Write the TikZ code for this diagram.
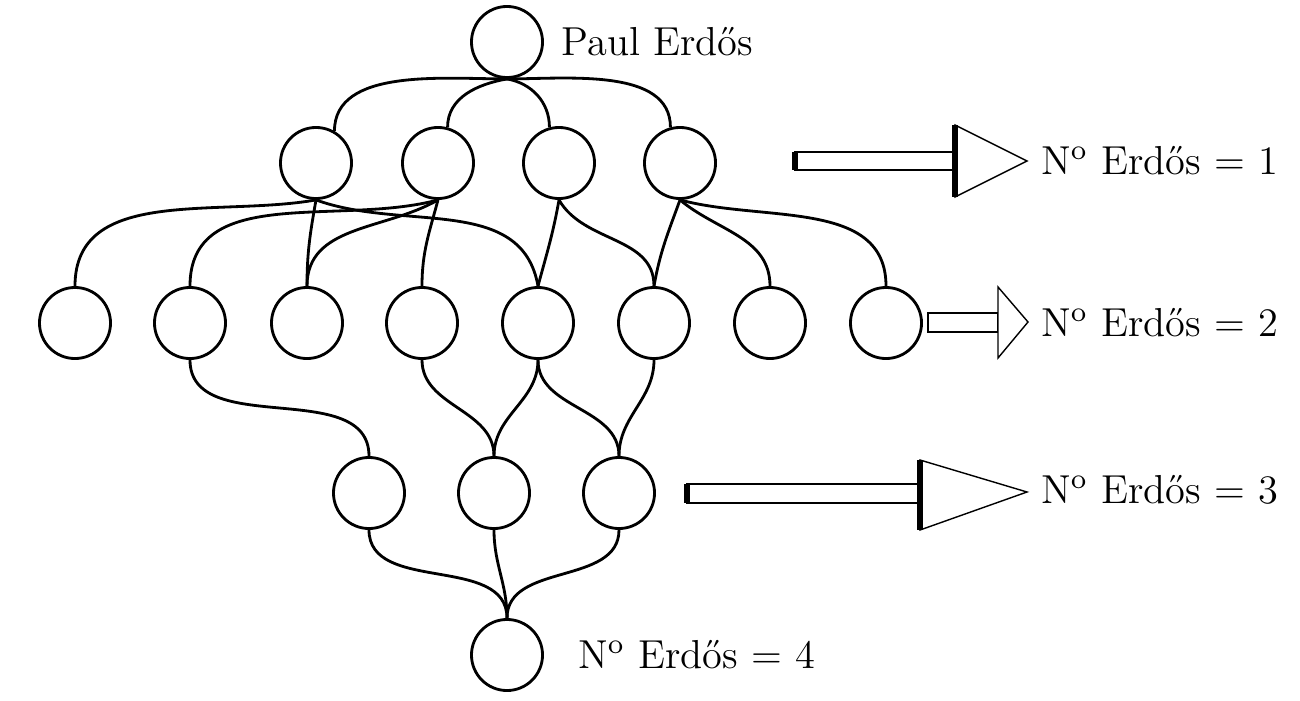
\documentclass[tikz,border=0pt]{standalone}
\usepackage{tikz}
\usetikzlibrary{arrows}
\begin{document}
\begin{tikzpicture}[x=0.01cm,y=-0.01cm,thick]
	\tikzstyle{pers}=[draw,circle,minimum size=0.71cm,inner sep=0pt]
	\tikzstyle{lbl}=[anchor=west,inner sep=0pt,font=\fontsize{11.5}{13}\selectfont]
	\tikzstyle{blk}=[draw,fill=white,thin]
	\useasboundingbox (0,0) rectangle (1300,700);
	\node [pers] (t) at (507,42) {};
	\node [lbl] at (560,42) {Paul Erdős};
	\foreach \x [count=\i] in {316,438,559,680}
		\node [pers] (a\i) at (\x,163) {};
	\foreach \x [count=\i] in {75,190,307,422,538,654,770,886}
		\node [pers] (b\i) at (\x,323) {};
	\foreach \x [count=\i] in {369,494,619}
		\node [pers] (c\i) at (\x,493) {};
	\node [pers] (d) at (507,655) {};
	\node [lbl] at (577,655) {N\textsuperscript{o} Erdős = 4};
	% nivel 1
	\draw (t.south) to[out=180,in=90,looseness=0.9] (a1.60);
	\draw (t.south) to[out=190,in=90] (a2.75);
	\draw (t.south) to[out=-10,in=90] (a3.105);
	\draw (t.south) to[out=0,in=90,looseness=0.9] (a4.105);
	% nivel 2
	\draw (a1.south) to[out=190,in=90] (b1.north);
	\draw (a1.south) to[out=-100,in=90] (b3.north);
	\draw (a1.south) to[out=-20,in=100] (b5.north);
	\draw (a2.south) to[out=195,in=90] (b2.north);
	\draw (a2.south) to[out=-150,in=90] (b3.north);
	\draw (a2.south) to[out=-105,in=90] (b4.north);
	\draw (a3.south) to[out=-100,in=75] (b5.north);
	\draw (a3.south) to[out=-60,in=90] (b6.north);
	\draw (a4.south) to[out=-110,in=80] (b6.north);
	\draw (a4.south) to[out=-40,in=90] (b7.north);
	\draw (a4.south) to[out=-15,in=90] (b8.north);
	% nivel 3
	\draw (b2.south) to[out=-90,in=90] (c1.north);
	\draw (b4.south) to[out=-90,in=90] (c2.north);
	\draw (b5.south) to[out=-90,in=90] (c2.north);
	\draw (b5.south) to[out=-90,in=90] (c3.north);
	\draw (b6.south) to[out=-90,in=90] (c3.north);
	% nivel 4
	\draw (c1.south) to[out=-90,in=90] (d.north);
	\draw (c2.south) to[out=-90,in=90] (d.north);
	\draw (c3.south) to[out=-90,in=90] (d.north);
	% flechas
	\draw [blk] (795,152) rectangle (955,170);
	\draw [blk] (955,125) -- (1027,161) -- (955,197) -- cycle;
	\draw [ultra thick] (795,152) -- (795,170) (955,125) -- (955,197);
	\node [lbl] at (1040,161) {N\textsuperscript{o} Erdős = 1};
	\draw [blk] (928,313) rectangle (998,332);
	\draw [blk] (998,287) -- (1028,322) -- (998,358) -- cycle;
	\node [lbl] at (1040,323) {N\textsuperscript{o} Erdős = 2};
	\draw [blk] (687,484) rectangle (920,503);
	\draw [blk] (920,460) -- (1027,492) -- (920,530) -- cycle;
	\draw [ultra thick] (687,484) -- (687,503) (920,460) -- (920,530);
	\node [lbl] at (1040,490) {N\textsuperscript{o} Erdős = 3};
\end{tikzpicture}
\end{document}
